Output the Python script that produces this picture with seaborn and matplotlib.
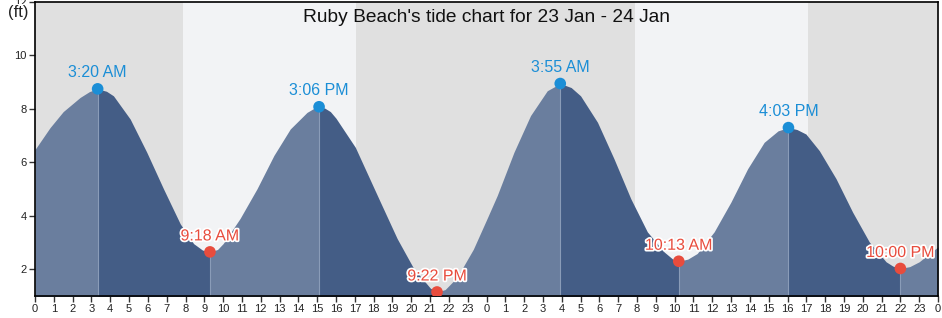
import numpy as np
import pandas as pd
import matplotlib
matplotlib.use("Agg")
import matplotlib.pyplot as plt
import matplotlib.patheffects as pe
import seaborn as sns

# ---- data ----
curve_hours = [0.0, 0.8, 1.5, 2.4, 2.9, 3.33, 3.8, 4.17, 5.06, 5.94, 6.83, 7.72, 8.43, 8.9, 9.3, 9.7,
               10.0, 10.9, 11.8, 12.7, 13.57, 14.46, 14.8, 15.1, 15.4, 15.7, 16.0, 17.03, 17.47, 18.36,
               19.25, 20.13, 21.02, 21.37, 21.8, 22.44, 23.3, 24.0, 24.57, 25.46, 26.34, 27.23, 27.92,
               28.5, 29.0, 29.9, 30.78, 31.67, 32.55, 33.44, 33.9, 34.22, 34.7, 35.2, 36.1, 36.99, 37.88,
               38.76, 39.5, 40.05, 40.5, 40.98, 41.69, 42.58, 43.46, 44.35, 45.24, 45.6, 46.0, 46.5,
               47.0, 48.0]
curve_feet = [6.48, 7.30, 7.90, 8.43, 8.65, 8.75, 8.66, 8.49, 7.62, 6.38, 5.01, 3.70, 2.96, 2.72, 2.65, 2.74,
              2.96, 3.90, 5.01, 6.26, 7.25, 7.87, 8.01, 8.08, 8.03, 7.90, 7.65, 6.56, 5.88, 4.51,
              3.15, 2.03, 1.29, 1.15, 1.24, 1.70, 2.75, 3.85, 4.76, 6.38, 7.75, 8.68, 8.95,
              8.80, 8.49, 7.50, 6.13, 4.64, 3.40, 2.65, 2.38, 2.30, 2.38, 2.59, 3.40, 4.51, 5.76,
              6.75, 7.18, 7.30, 7.23, 7.06, 6.44, 5.39, 4.14, 3.02, 2.28, 2.12, 2.03, 2.10,
              2.28, 2.84]

extreme_hours = [3.33, 9.30, 15.10, 21.37, 27.92, 34.22, 40.05, 46.00]
extreme_feet = [8.75, 2.65, 8.08, 1.15, 8.95, 2.30, 7.30, 2.03]
extreme_labels = ["3:20 AM", "9:18 AM", "3:06 PM", "9:22 PM", "3:55 AM", "10:13 AM", "4:03 PM", "10:00 PM"]
extreme_kind = ["high", "low", "high", "low", "high", "low", "high", "low"]

night_spans = [(0.0, 7.87), (17.07, 31.9), (41.1, 48.0)]
day_spans = [(7.87, 17.07), (31.9, 41.1)]

tick_hours = list(range(0, 49))
tick_labels = [str(h % 24) for h in tick_hours]
y_ticks = [2, 4, 6, 8, 10, 12]
title = "Ruby Beach's tide chart for 23 Jan - 24 Jan"

# ---- styles ----
NIGHT = "#e0e0e0"
DAY = "#f2f3f5"
RISE = "#6a7e9e"
FALL = "#445d86"
HIGH_C = "#1b8ed6"
LOW_C = "#e84c3d"

sns.set_style("white")
plt.rcParams["font.family"] = ["Liberation Sans", "DejaVu Sans"]

fig = plt.figure(figsize=(9.42, 3.18), dpi=100)
ax = fig.add_axes([35 / 942, 1 - 296 / 318, (938 - 35) / 942, (296 - 2) / 318])

for a, b in night_spans:
    ax.axvspan(a, b, color=NIGHT, lw=0, zorder=0)
for a, b in day_spans:
    ax.axvspan(a, b, color=DAY, lw=0, zorder=0)

df = pd.DataFrame({"hour": curve_hours, "feet": curve_feet})
bounds = [0.0] + extreme_hours + [48.0]
for i in range(len(bounds) - 1):
    t1, t2 = bounds[i], bounds[i + 1]
    seg = df[(df.hour >= t1 - 1e-9) & (df.hour <= t2 + 1e-9)]
    if i == 0:
        rising = extreme_kind[0] == "high"
    else:
        rising = extreme_kind[i - 1] == "low"
    col = RISE if rising else FALL
    ax.fill_between(seg.hour, 0, seg.feet, color=col, lw=0, zorder=1)
sns.lineplot(data=df, x="hour", y="feet", ax=ax, color=FALL, lw=0.0, zorder=1)

# faint boundary lines at extremes
for t, v in zip(extreme_hours, extreme_feet):
    ax.plot([t, t], [0, v], color="#8a9cb8", lw=0.8, zorder=2)

ext = pd.DataFrame({"hour": extreme_hours, "feet": extreme_feet, "kind": extreme_kind})
sns.scatterplot(data=ext, x="hour", y="feet", hue="kind", palette={"high": HIGH_C, "low": LOW_C},
                s=70, linewidth=0, ax=ax, legend=False, zorder=4)

for t, v, lab, k in zip(extreme_hours, extreme_feet, extreme_labels, extreme_kind):
    if k == "high":
        ax.annotate(lab, (t, v), xytext=(0, 11.5), textcoords="offset points",
                    ha="center", va="center", color=HIGH_C, fontsize=11.5, zorder=5)
    else:
        ax.annotate(lab, (t, v), xytext=(0, 11.5), textcoords="offset points",
                    ha="center", va="center", color=LOW_C, fontsize=11.5, zorder=5,
                    path_effects=[pe.withStroke(linewidth=2.5, foreground="white")])

ax.set_xlim(0, 48)
ax.set_ylim(1, 12)
ax.set_xticks(tick_hours)
ax.set_xticklabels(tick_labels)
ax.set_yticks(y_ticks)
ax.tick_params(axis="both", direction="out", length=4, width=1, colors="#333333", labelsize=8,
               labelcolor="#222222", bottom=True, left=True, pad=2)
ax.set_xlabel("")
ax.set_ylabel("")
for s in ax.spines.values():
    s.set_color("black")
    s.set_linewidth(1.2)

fig.text(303 / 942, 1 - 18 / 318, title, ha="left", va="center", fontsize=13.8, color="#111111")
fig.text(8 / 942, 1 - 12 / 318, "(ft)", ha="left", va="center", fontsize=12, color="#222222",
         zorder=10, bbox=dict(facecolor="white", edgecolor="none", pad=0.5))

fig.savefig("out.png", dpi=100)
